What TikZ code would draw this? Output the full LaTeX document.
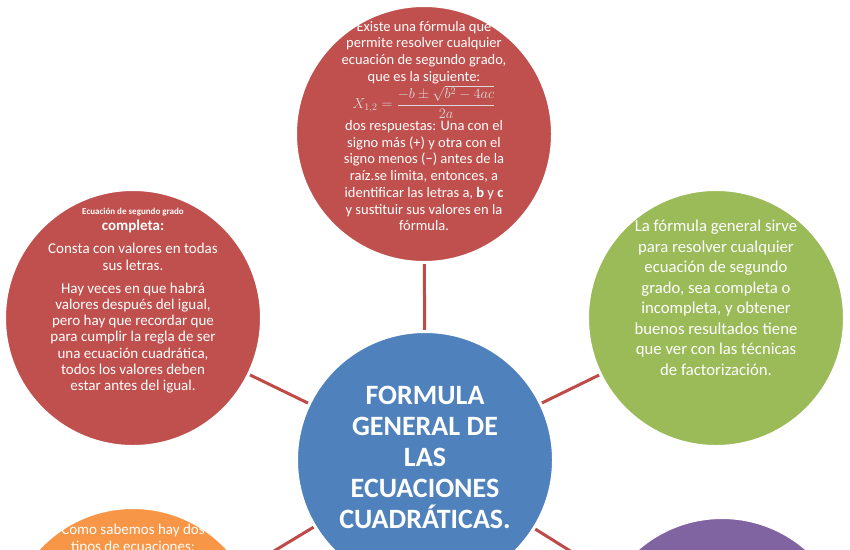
\documentclass[tikz,border=0pt]{standalone}
\usepackage{fontspec}
\setmainfont{Carlito}
\begin{document}
\begin{tikzpicture}[x=1pt,y=-1pt,
  circ/.style={circle,draw=white,line width=3pt,minimum size=257pt,inner sep=0pt},
  link/.style={draw=linkred,line width=3pt},
  txt/.style={align=center,text=white,inner sep=0pt}]
\definecolor{linkred}{HTML}{BE4B48}
\definecolor{cred}{HTML}{C0504D}
\definecolor{cblue}{HTML}{4F81BD}
\definecolor{cgreen}{HTML}{9BBB59}
\definecolor{corange}{HTML}{F79646}
\definecolor{cpurple}{HTML}{8064A2}
\useasboundingbox (0,0) rectangle (850,549);
\begin{scope}
\clip (0,0) rectangle (850,549);
\coordinate (cc) at (425,460);
\coordinate (tc) at (424,134);
\coordinate (lc) at (133,318);
\coordinate (rc) at (716,318);
\coordinate (oc) at (133,636);
\coordinate (pc) at (722,646);
\draw[link] (cc) -- (tc);
\draw[link] (cc) -- (lc);
\draw[link] (cc) -- (rc);
\draw[link] (cc) -- (oc);
\draw[link] (cc) -- (pc);
\node[circ,fill=cred] (top) at (tc) {};
\node[circ,fill=cred] (left) at (lc) {};
\node[circ,fill=cgreen] (right) at (rc) {};
\node[circ,fill=corange] (orange) at (oc) {};
\node[circ,fill=cpurple] (purple) at (pc) {};
\node[circ,fill=cblue] (center) at (cc) {};
\end{scope}
\node[txt,font=\fontsize{14.5}{16.7}\selectfont,anchor=north] (ttext) at (424,21) {Existe una fórmula que\\permite resolver cualquier\\ecuación de segundo grado,\\que es la siguiente:\\[1pt]
{\color{white!85!black}$\displaystyle X_{1,2}=\frac{-b\pm\sqrt{b^2-4ac}}{2a}$}\\[1pt]
dos respuestas: Una con el\\signo más (+) y otra con el\\signo menos (−) antes de la\\raíz.se limita, entonces, a\\identificar las letras a, \textbf{b} y \textbf{c}\\y sustituir sus valores en la\\fórmula.};
\node[txt,font=\fontsize{15}{16.2}\selectfont,anchor=north] (ltext) at (133,208) {\textbf{\small Ecuación de segundo grado}\\\textbf{completa:}\\[7pt]
Consta con valores en todas\\sus letras.\\[7pt]
Hay veces en que habrá\\valores después del igual,\\pero hay que recordar que\\para cumplir la regla de ser\\una ecuación cuadrática,\\todos los valores deben\\estar antes del igual.};
\node[txt,font=\fontsize{16.7}{20.5}\selectfont] (rtext) at (716,298) {La fórmula general sirve\\para resolver cualquier\\ecuación de segundo\\grado, sea completa o\\incompleta, y obtener\\buenos resultados tiene\\que ver con las técnicas\\de factorización.};
\node[txt,font=\bfseries\fontsize{28}{31}\selectfont,anchor=north] (ctext) at (425,386) {FORMULA\\GENERAL DE\\LAS\\ECUACIONES\\CUADRÁTICAS.};
\begin{scope}
\clip (0,0) rectangle (850,549);
\node[txt,font=\fontsize{15}{16.5}\selectfont,anchor=north] (otext) at (133,524) {Como sabemos hay dos\\tipos de ecuaciones:};
\end{scope}
\end{tikzpicture}
\end{document}
